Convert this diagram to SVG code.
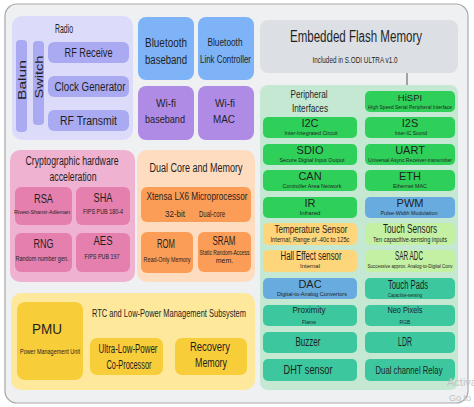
<svg xmlns="http://www.w3.org/2000/svg" width="474" height="407" viewBox="0 0 474 407">
<style>
text{font-family:"Liberation Sans",Arial,sans-serif;fill:#1f1f1f;text-anchor:middle}
.h{font-size:12px}
.s{font-size:6px}
.s7{font-size:7px}
.radI{fill:#aaaaf2}
.bt{fill:#7eb3f7}
.wf{fill:#b08be6}
.gr{fill:#2fd05a}
.bl{fill:#68acdf}
.ye{fill:#fdd57b}
.lg{fill:#c4f0a3}
.te{fill:#3cc79e}
.pk{fill:#e47fae}
.or{fill:#fb9d56}
.yl{fill:#f8cd3a}
</style>
<rect x="0" y="0" width="474" height="407" fill="#ffffff"/>
<rect id="frame" x="5" y="4" width="463" height="399" rx="12" fill="#eef0f2" stroke="#a8a8a8" stroke-width="1.2"/>

<g id="radio">
<rect x="12" y="16" width="121" height="124" rx="10" fill="#dcdcfa"/>
<text x="64" y="33" font-size="12" textLength="18" lengthAdjust="spacingAndGlyphs">Radio</text>
<rect class="radI" x="16" y="40" width="11" height="92" rx="4"/>
<text transform="translate(21.5 80) rotate(-90)" y="4" font-size="11" textLength="40" lengthAdjust="spacingAndGlyphs">Balun</text>
<rect class="radI" x="33" y="41" width="11" height="84" rx="4"/>
<text transform="translate(38.5 77) rotate(-90)" y="4" font-size="11" textLength="43" lengthAdjust="spacingAndGlyphs">Switch</text>
<g id="rf-receive"><rect class="radI" x="48" y="42" width="81" height="21" rx="6"/><text x="88.5" y="57" font-size="13" textLength="48" lengthAdjust="spacingAndGlyphs">RF Receive</text></g>
<g id="clock-generator"><rect class="radI" x="48" y="76" width="81" height="21" rx="6"/><text x="90" y="91" font-size="12.5" textLength="71" lengthAdjust="spacingAndGlyphs">Clock Generator</text></g>
<g id="rf-transmit"><rect class="radI" x="48" y="110" width="81" height="21" rx="6"/><text x="88.5" y="125" font-size="13" textLength="57" lengthAdjust="spacingAndGlyphs">RF Transmit</text></g>
</g>

<g id="bt-baseband"><rect class="bt" x="138" y="17" width="56" height="63" rx="8"/>
<text x="166" y="47" class="h" textLength="42" lengthAdjust="spacingAndGlyphs">Bluetooth</text>
<text x="166" y="64" class="h" textLength="42" lengthAdjust="spacingAndGlyphs">baseband</text></g>
<g id="bt-link"><rect class="bt" x="198" y="17" width="56" height="63" rx="8"/>
<text x="225" y="46" font-size="11" textLength="35" lengthAdjust="spacingAndGlyphs">Bluetooth</text>
<text x="225.5" y="63" font-size="10" textLength="51" lengthAdjust="spacingAndGlyphs">Link Controller</text></g>
<g id="wifi-baseband"><rect class="wf" x="138" y="86" width="56" height="54" rx="8"/>
<text x="166" y="107" font-size="11" textLength="20" lengthAdjust="spacingAndGlyphs">Wi-fi</text>
<text x="165" y="123" font-size="11" textLength="40" lengthAdjust="spacingAndGlyphs">baseband</text></g>
<g id="wifi-mac"><rect class="wf" x="198" y="86" width="56" height="54" rx="8"/>
<text x="225" y="107" font-size="11" textLength="20" lengthAdjust="spacingAndGlyphs">Wi-fi</text>
<text x="224" y="123" font-size="11" textLength="22" lengthAdjust="spacingAndGlyphs">MAC</text></g>

<g id="flash"><rect x="260" y="20" width="198" height="53" rx="8" fill="#dcdfe4"/>
<text x="356" y="42" font-size="16" textLength="132" lengthAdjust="spacingAndGlyphs">Embedded Flash Memory</text>
<text x="355" y="63" font-size="8.5" textLength="85" lengthAdjust="spacingAndGlyphs">Included in S.ODI ULTRA v1.0</text></g>

<g id="connectors"><line x1="407" y1="73" x2="407" y2="91" stroke="#555" stroke-width="1"/></g>

<g id="peripherals"><rect x="260" y="85" width="198" height="305" rx="8" fill="#c5e8d3"/>
<text x="309" y="98" font-size="11" textLength="37" lengthAdjust="spacingAndGlyphs">Peripheral</text>
<text x="310" y="112" font-size="11" textLength="36" lengthAdjust="spacingAndGlyphs">Interfaces</text></g>

<g id="hispi"><rect class="gr" x="365" y="91" width="90" height="21" rx="5"/><text x="410" y="101" font-size="9.5">HiSPI</text><text x="410" y="109" font-size="5.2" textLength="84" lengthAdjust="spacingAndGlyphs">High Speed Serial Peripheral Interface</text></g>

<g id="i2c"><rect class="gr" x="263" y="117" width="94" height="21" rx="5"/><text x="310" y="127" font-size="11">I2C</text><text x="311" y="135" class="s" textLength="53" lengthAdjust="spacingAndGlyphs">Inter-Integrated Circuit</text></g>
<g id="i2s"><rect class="gr" x="365" y="117" width="90" height="21" rx="5"/><text x="410" y="127" font-size="11">I2S</text><text x="411" y="135" class="s" textLength="32" lengthAdjust="spacingAndGlyphs">Inter-IC Sound</text></g>
<g id="sdio"><rect class="gr" x="263" y="144" width="94" height="21" rx="5"/><text x="310" y="154" font-size="11">SDIO</text><text x="312" y="162" class="s" textLength="65" lengthAdjust="spacingAndGlyphs">Secure Digital Input Output</text></g>
<g id="uart"><rect class="gr" x="365" y="144" width="90" height="21" rx="5"/><text x="410" y="154" font-size="11">UART</text><text x="410" y="162" font-size="5.2" textLength="84" lengthAdjust="spacingAndGlyphs">Universal Async Receiver-transmitter</text></g>
<g id="can"><rect class="gr" x="263" y="170" width="94" height="21" rx="5"/><text x="310" y="180" font-size="11">CAN</text><text x="312" y="188" class="s" textLength="59" lengthAdjust="spacingAndGlyphs">Controller Area Network</text></g>
<g id="eth"><rect class="gr" x="365" y="170" width="90" height="21" rx="5"/><text x="410" y="180" font-size="11">ETH</text><text x="410" y="188" class="s" textLength="34" lengthAdjust="spacingAndGlyphs">Ethernet MAC</text></g>
<g id="ir"><rect class="gr" x="263" y="197" width="94" height="21" rx="5"/><text x="310" y="207" font-size="11">IR</text><text x="310" y="215" class="s">Infrared</text></g>
<g id="pwm"><rect class="bl" x="365" y="197" width="90" height="21" rx="5"/><text x="410" y="207" font-size="11">PWM</text><text x="409" y="215" class="s" textLength="57" lengthAdjust="spacingAndGlyphs">Pulse-Width Modulation</text></g>
<g id="temp"><rect class="ye" x="263" y="223" width="94" height="22" rx="5"/><text x="311" y="233" font-size="11.5" textLength="73" lengthAdjust="spacingAndGlyphs">Temperature Sensor</text><text x="310" y="242" font-size="6.5" textLength="79" lengthAdjust="spacingAndGlyphs">Internal; Range of -40c to 125c</text></g>
<g id="touch-sensors"><rect class="lg" x="365" y="223" width="90" height="22" rx="5"/><text x="410" y="233" class="h" textLength="54" lengthAdjust="spacingAndGlyphs">Touch Sensors</text><text x="410" y="242" font-size="6.5" textLength="74" lengthAdjust="spacingAndGlyphs">Ten capacitive-sensing inputs</text></g>
<g id="hall"><rect class="ye" x="263" y="250" width="94" height="22" rx="5"/><text x="311" y="260" class="h" textLength="61" lengthAdjust="spacingAndGlyphs">Hall Effect sensor</text><text x="310" y="268" class="s">Internal</text></g>
<g id="sar-adc"><rect class="lg" x="365" y="250" width="90" height="22" rx="5"/><text x="409" y="260" class="h" textLength="28" lengthAdjust="spacingAndGlyphs">SAR ADC</text><text x="410" y="268" font-size="4.6" textLength="85" lengthAdjust="spacingAndGlyphs">Successive approx. Analog-to-Digital Conv</text></g>
<g id="dac"><rect class="bl" x="263" y="278" width="94" height="21" rx="5"/><text x="310" y="288" font-size="11">DAC</text><text x="312" y="296" class="s" textLength="70" lengthAdjust="spacingAndGlyphs">Digital-to-Analog Convertors</text></g>
<g id="touch-pads"><rect class="te" x="365" y="278" width="90" height="21" rx="5"/><text x="408" y="289" class="h" textLength="40" lengthAdjust="spacingAndGlyphs">Touch Pads</text><text x="405" y="297" class="s" textLength="34" lengthAdjust="spacingAndGlyphs">Capacitive-sensing</text></g>
<g id="proximity"><rect class="te" x="263" y="305" width="94" height="21" rx="5"/><text x="309" y="312.5" font-size="9" textLength="33" lengthAdjust="spacingAndGlyphs">Proximity</text><text x="309" y="323.5" font-size="5">Flame</text></g>
<g id="neo-pixels"><rect class="te" x="365" y="305" width="90" height="21" rx="5"/><text x="405" y="312.5" font-size="9" textLength="35" lengthAdjust="spacingAndGlyphs">Neo Pixels</text><text x="405" y="323.5" font-size="5">RGB</text></g>
<g id="buzzer"><rect class="te" x="263" y="332" width="94" height="21" rx="5"/><text x="308" y="346" class="h" textLength="25" lengthAdjust="spacingAndGlyphs">Buzzer</text></g>
<g id="ldr"><rect class="te" x="365" y="332" width="90" height="21" rx="5"/><text x="405" y="346" class="h" textLength="14" lengthAdjust="spacingAndGlyphs">LDR</text></g>
<g id="dht"><rect class="te" x="263" y="359" width="94" height="22" rx="5"/><text x="308" y="374" class="h" textLength="49" lengthAdjust="spacingAndGlyphs">DHT sensor</text></g>
<g id="relay"><rect class="te" x="365" y="359" width="90" height="22" rx="5"/><text x="409" y="374" font-size="10.5" textLength="67" lengthAdjust="spacingAndGlyphs">Dual channel Relay</text></g>

<g id="crypto"><rect x="10" y="150" width="125" height="132" rx="10" fill="#efb3d1"/>
<text x="72" y="165" font-size="12.5" textLength="93" lengthAdjust="spacingAndGlyphs">Cryptographic hardware</text>
<text x="73" y="181" font-size="12.5" textLength="47" lengthAdjust="spacingAndGlyphs">acceleration</text></g>
<g id="rsa"><rect class="pk" x="15" y="187" width="57" height="38" rx="6"/><text x="43.5" y="203" font-size="13" textLength="19" lengthAdjust="spacingAndGlyphs">RSA</text><text x="42" y="214" font-size="6" textLength="56" lengthAdjust="spacingAndGlyphs">Rivest-Shamir-Adleman</text></g>
<g id="sha"><rect class="pk" x="76" y="187" width="54" height="38" rx="6"/><text x="103" y="202" font-size="13" textLength="19" lengthAdjust="spacingAndGlyphs">SHA</text><text x="103" y="214" class="s7" textLength="40" lengthAdjust="spacingAndGlyphs">FIPS PUB 180-4</text></g>
<g id="rng"><rect class="pk" x="15" y="233" width="57" height="39" rx="6"/><text x="43.5" y="248" font-size="13" textLength="20" lengthAdjust="spacingAndGlyphs">RNG</text><text x="42" y="261" font-size="6.5" textLength="53" lengthAdjust="spacingAndGlyphs">Random number gen.</text></g>
<g id="aes"><rect class="pk" x="76" y="233" width="54" height="39" rx="6"/><text x="103" y="245" font-size="13" textLength="19" lengthAdjust="spacingAndGlyphs">AES</text><text x="102" y="259" class="s7" textLength="35" lengthAdjust="spacingAndGlyphs">FIPS PUB 197</text></g>

<g id="dual-core"><rect x="137" y="150" width="118" height="132" rx="10" fill="#fedcbf"/>
<text x="196" y="172" class="h" textLength="93" lengthAdjust="spacingAndGlyphs">Dual Core and Memory</text></g>
<g id="xtensa"><rect class="or" x="141" y="187" width="110" height="35" rx="6"/><text x="197" y="200" font-size="11" textLength="101" lengthAdjust="spacingAndGlyphs">Xtensa LX6 Microprocessor</text>
<text x="175" y="217" font-size="9" textLength="20" lengthAdjust="spacingAndGlyphs">32-bit</text><text x="212" y="217" font-size="9" textLength="26" lengthAdjust="spacingAndGlyphs">Dual-core</text></g>
<g id="rom"><rect class="or" x="141" y="232" width="52" height="41" rx="6"/><text x="166" y="248" class="h" textLength="18" lengthAdjust="spacingAndGlyphs">ROM</text><text x="167" y="262" font-size="6.5" textLength="47" lengthAdjust="spacingAndGlyphs">Read-Only Memory</text></g>
<g id="sram"><rect class="or" x="198" y="232" width="53" height="40" rx="6"/><text x="224" y="245" class="h" textLength="23" lengthAdjust="spacingAndGlyphs">SRAM</text><text x="224.5" y="255" font-size="6.5" textLength="50" lengthAdjust="spacingAndGlyphs">Static Random-Access</text><text x="224.5" y="263" class="s7">mem.</text></g>

<g id="rtc"><rect x="11" y="293" width="244" height="97" rx="10" fill="#fde89c"/>
<text x="169" y="317" font-size="11" textLength="154" lengthAdjust="spacingAndGlyphs">RTC and Low-Power Management Subsystem</text></g>
<g id="pmu"><rect class="yl" x="17" y="302" width="66" height="78" rx="8"/><text x="47" y="334" font-size="14" textLength="30" lengthAdjust="spacingAndGlyphs">PMU</text><text x="50" y="354" font-size="6.5" textLength="60" lengthAdjust="spacingAndGlyphs">Power Management Unit</text></g>
<g id="ulp"><rect class="yl" x="90" y="338" width="73" height="37" rx="7"/><text x="128" y="353" class="h" textLength="59" lengthAdjust="spacingAndGlyphs">Ultra-Low-Power</text><text x="129" y="369" class="h" textLength="45" lengthAdjust="spacingAndGlyphs">Co-Processor</text></g>
<g id="recovery"><rect class="yl" x="175" y="338" width="72" height="37" rx="7"/><text x="210" y="351" class="h" textLength="40" lengthAdjust="spacingAndGlyphs">Recovery</text><text x="211" y="367" class="h" textLength="32" lengthAdjust="spacingAndGlyphs">Memory</text></g>

<text x="447" y="386" font-size="11" style="text-anchor:start;fill:#c4c4c4">Activat</text>
<text x="449" y="401" font-size="9" style="text-anchor:start;fill:#c4c4c4">Go to Se</text>
</svg>
